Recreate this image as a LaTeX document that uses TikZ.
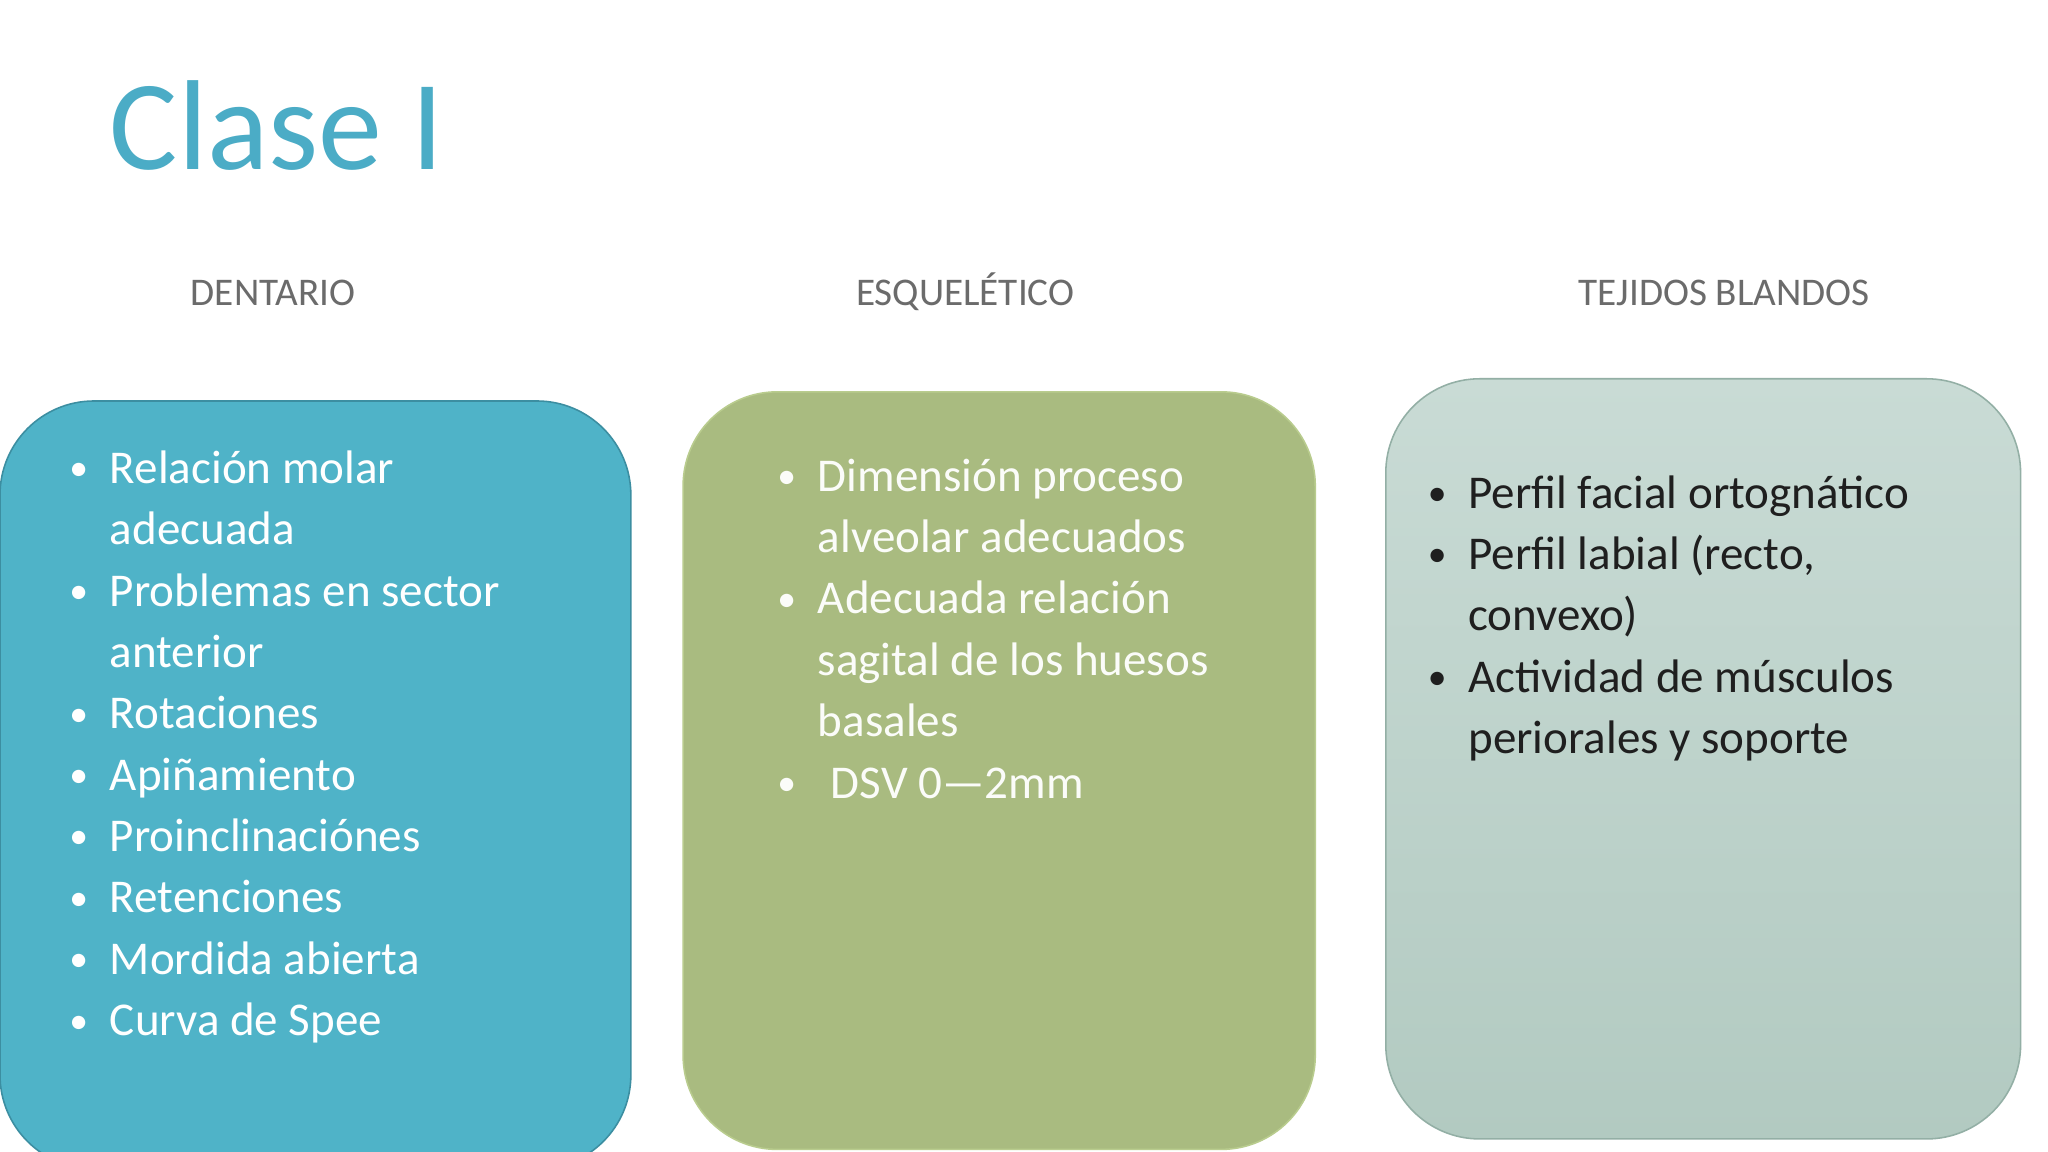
\documentclass[tikz,border=0pt]{standalone}
\usepackage{fontspec}
\setmainfont{Carlito}
\definecolor{titlec}{HTML}{4BACC6}
\definecolor{headc}{HTML}{6B6B6B}
\definecolor{boxa}{HTML}{4FB3C8}
\definecolor{boxaB}{HTML}{3C8EA1}
\definecolor{boxb}{HTML}{A9BB80}
\definecolor{boxbB}{HTML}{B9CC8E}
\definecolor{boxcT}{HTML}{C9DBD5}
\definecolor{boxcB}{HTML}{B2CAC1}
\definecolor{boxcD}{HTML}{93AFA5}
\newcommand{\bul}{\makebox[31pt][l]{\raisebox{2pt}{\scalebox{0.8}{\textbullet}}}}
\begin{document}
\begin{tikzpicture}[x=1pt,y=-1pt,
  panel/.style={rounded corners=72pt, line width=1.2pt},
  head/.style={font=\fontsize{30}{36}\selectfont, text=headc, inner sep=0},
  list/.style={anchor=base west, inner sep=0, align=left}]
\useasboundingbox (0,0) rectangle (1568,882);
\fill[white] (0,0) rectangle (1568,882);
\node[font=\fontsize{98}{110}\selectfont, text=titlec, anchor=base west, inner sep=0] (title) at (84,130) {Clase I};
\node[head, anchor=base] (h1) at (209,234) {DENTARIO};
\node[head, anchor=base] (h2) at (739,234) {ESQUELÉTICO};
\node[head, anchor=base] (h3) at (1320,234) {TEJIDOS BLANDOS};
\draw[panel, fill=boxa, draw=boxaB] (0,307) rectangle (483,895);
\draw[panel, fill=boxb, draw=boxbB] (523,300) rectangle (1007,880);
\draw[panel, top color=boxcT, bottom color=boxcB, draw=boxcD] (1061,290) rectangle (1547,872);
\node[list, text=white, font=\fontsize{36}{47}\selectfont] (l1) at (53,370) {\begin{tabular}[t]{@{}l@{}l@{}}
\bul & Relación molar\\ & adecuada\\
\bul & Problemas en sector\\ & anterior\\
\bul & Rotaciones\\
\bul & Apiñamiento\\
\bul & Proinclinacióne\hbox{s}\\
\bul & Retenciones\\
\bul & Mordida abierta\\
\bul & Curva de Spee
\end{tabular}};
\node[list, text=white!95!boxb, font=\fontsize{36}{47}\selectfont] (l2) at (595,376) {\begin{tabular}[t]{@{}l@{}l@{}}
\bul & Dimensión proceso\\ & alveolar adecuados\\
\bul & Adecuada relación\\ & sagital de los huesos\\ & basales\\
\bul & \hspace{10pt}DSV 0—2mm
\end{tabular}};
\node[list, text=black!88, font=\fontsize{36}{47}\selectfont] (l3) at (1093,389) {\begin{tabular}[t]{@{}l@{}l@{}}
\bul & Perfil facial ortognático\\
\bul & Perfil labial (recto,\\ & convexo)\\
\bul & Actividad de músculos\\ & periorales y soporte
\end{tabular}};
\end{tikzpicture}
\end{document}
